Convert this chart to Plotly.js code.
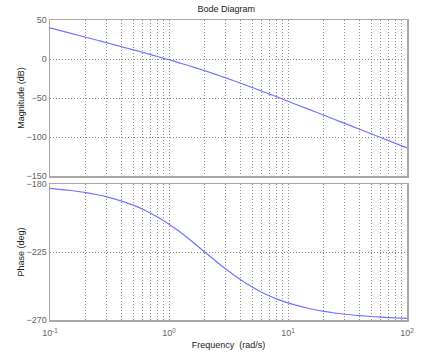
<!DOCTYPE html>
<html>
<head>
<meta charset="utf-8">
<script src="https://cdn.plot.ly/plotly-3.0.1.min.js"></script>
<style>html,body{margin:0;padding:0;background:#fff;}#chart{width:423px;height:360px;}</style>
</head>
<body>
<div id="chart"></div>
<script>
// Frequency samples (rad/s)
const freq = [0.1, 0.15, 0.2, 0.25, 0.3, 0.4, 0.5, 0.6, 0.7, 0.8, 1, 1.2, 1.5, 2, 2.5, 3, 4, 5, 6, 7, 8, 10, 12, 15, 20, 25, 30, 40, 50, 60, 70, 80, 100];
// Magnitude (dB)
const magnitude = [40.0, 32.9, 27.9, 24.0, 20.8, 15.7, 11.8, 8.6, 5.7, 3.2, -1.0, -4.6, -9.0, -15.1, -20.0, -24.2, -31.1, -36.6, -41.0, -45.0, -48.2, -54.2, -59.0, -64.6, -72.1, -77.9, -82.6, -90.1, -95.9, -100.7, -104.7, -108.2, -114.0];
// Phase (deg)
const phase = [-182.9, -184.3, -185.7, -187.1, -188.5, -191.3, -194.0, -196.7, -199.3, -201.8, -206.6, -211.0, -216.9, -225.0, -231.3, -236.3, -243.4, -248.2, -251.6, -254.1, -256.0, -258.7, -260.5, -262.4, -264.3, -265.4, -266.2, -267.1, -267.7, -268.1, -268.4, -268.6, -268.9];
// Tick labels
const xTickVals = [0.1,0.2,0.3,0.4,0.5,0.6,0.7,0.8,0.9,1,2,3,4,5,6,7,8,9,10,20,30,40,50,60,70,80,90,100];
const xTickText = xTickVals.map(v => v===0.1?'10<sup>-1</sup>':v===1?'10<sup>0</sup>':v===10?'10<sup>1</sup>':v===100?'10<sup>2</sup>':'');
const magTicks = [50, 0, -50, -100, -150];
const phaseTicks = [-180, -225, -270];

const lineColor = '#7373ff';
const traces = [
  {x: freq, y: magnitude, xaxis: 'x', yaxis: 'y', mode: 'lines', line: {color: lineColor, width: 1.2, shape: 'spline'}, hoverinfo: 'skip'},
  {x: freq, y: phase, xaxis: 'x2', yaxis: 'y2', mode: 'lines', line: {color: lineColor, width: 1.2, shape: 'spline'}, hoverinfo: 'skip'}
];
const ff = 'Liberation Sans, Arial, sans-serif';
const font = {family: ff, size: 9, color: '#666'};
const titleFont = {family: ff, size: 9, color: '#222'};
const gridStyle = {showgrid: true, gridcolor: '#8c8c8c', griddash: '1px,2px', gridwidth: 1,
  showline: true, mirror: true, linecolor: '#a8a8a8', linewidth: 1.5,
  zeroline: false, ticks: '', tickfont: font};
const xBase = Object.assign({type: 'log', range: [-1, 2], tickvals: xTickVals, ticktext: xTickText}, gridStyle);
const layout = {
  width: 423, height: 360,
  margin: {l: 50, r: 16, t: 20, b: 40},
  paper_bgcolor: '#fff', plot_bgcolor: '#fff',
  showlegend: false,
  font: font,
  title: {text: 'Bode Diagram', font: titleFont, x: 0.535, xanchor: 'center', y: 0.985, yanchor: 'top'},
  xaxis: Object.assign({}, xBase, {anchor: 'y', showticklabels: false}),
  xaxis2: Object.assign({}, xBase, {anchor: 'y2', ticklabelstandoff: 4,
    title: {text: 'Frequency  (rad/s)', font: titleFont, standoff: 4}}),
  yaxis: Object.assign({}, gridStyle, {domain: [0.48, 1], range: [-150, 50], tickvals: magTicks,
    title: {text: 'Magnitude (dB)', font: titleFont, standoff: 0}}),
  yaxis2: Object.assign({}, gridStyle, {domain: [0, 0.4533], range: [-270, -180], tickvals: phaseTicks,
    title: {text: 'Phase (deg)', font: titleFont, standoff: 0}})
};
Plotly.newPlot('chart', traces, layout, {displayModeBar: false, staticPlot: true});
</script>
</body>
</html>
